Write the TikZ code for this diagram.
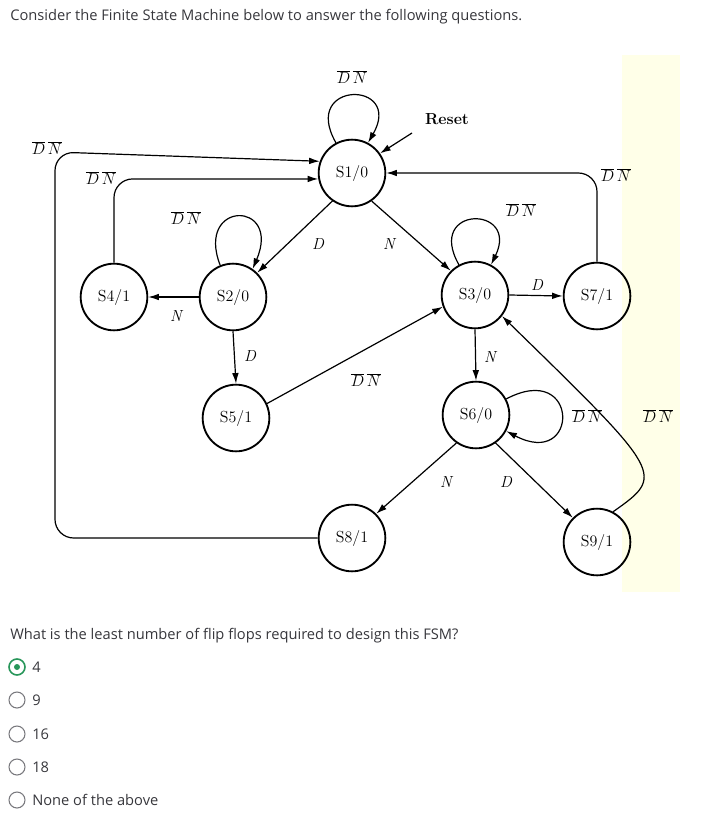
\documentclass[tikz,border=0pt]{standalone}
\usepackage{fontspec}
\newfontfamily\uifont{Open Sans}
\usetikzlibrary{arrows.meta}
\definecolor{uitext}{RGB}{55,55,60}
\definecolor{radiogray}{RGB}{120,120,125}
\definecolor{radiogreen}{RGB}{40,150,90}
\definecolor{paleyellow}{RGB}{255,255,232}
\tikzset{
	state/.style={circle,draw,line width=1.4pt,minimum size=50,inner sep=0pt,font=\large},
	edge/.style={line width=0.9pt,-{Latex[length=8pt,width=5pt]}},
	lbl/.style={font=\large\itshape,inner sep=1pt},
	uitxt/.style={font=\uifont\fontsize{11}{13}\selectfont,color=uitext,anchor=west,inner sep=0pt},
	radio/.style={circle,draw=radiogray,line width=0.8pt,minimum size=12,inner sep=0pt},
}
\newcommand{\dnbar}{$\overline{D}\,\overline{N}$}
\begin{document}
\begin{tikzpicture}[x=0.75pt,y=0.75pt,yscale=-1,xscale=1]
	\useasboundingbox (0,0) rectangle (702,820);
	\fill[paleyellow] (622,55) rectangle (680,592);
	
	% header and question
	\node[uitxt] (title) at (10,17) {Consider the Finite State Machine below to answer the following questions.};
	\node[uitxt] (question) at (10,636) {What is the least number of flip flops required to design this FSM?};
	\node[radio,draw=radiogreen,line width=1.2pt] (r1) at (17,667) {};
	\fill[radiogreen] (r1) circle (3);
	\node[uitxt] (a1) at (32,667) {4};
	\node[radio] (r2) at (17,700) {};
	\node[uitxt] (a2) at (32,700) {9};
	\node[radio] (r3) at (17,734) {};
	\node[uitxt] (a3) at (32,734) {16};
	\node[radio] (r4) at (17,767) {};
	\node[uitxt] (a4) at (32,767) {18};
	\node[radio] (r5) at (17,800) {};
	\node[uitxt] (a5) at (32,800) {None of the above};
	
	% states
	\node[state] (s1) at (352,173) {S1/0};
	\node[state] (s2) at (233,297) {S2/0};
	\node[state] (s3) at (475,295) {S3/0};
	\node[state] (s4) at (114,297) {S4/1};
	\node[state] (s5) at (236,418) {S5/1};
	\node[state] (s6) at (476,415) {S6/0};
	\node[state] (s7) at (597,296) {S7/1};
	\node[state] (s8) at (352,538) {S8/1};
	\node[state] (s9) at (597,542) {S9/1};
	\coordinate (rst) at (412,133);
	\coordinate (c8) at (55,152);
	
	% transitions
	\draw[edge] (s1.118) .. controls (300,80) and (404,80) .. (s1.62);
	\draw[edge] (rst) -- (s1.35);
	\draw[edge,rounded corners=14] (s8.west) -| (c8) -- (s1.160);
	\draw[edge,rounded corners=14] (s4.north) |- (s1.190);
	\draw[edge,rounded corners=14] (s7.north) |- (s1.east);
	\draw[edge] (s1.235) -- (s2.45);
	\draw[edge] (s1.305) -- (s3.135);
	\draw[edge] (s2.112) .. controls (195,200) and (282,200) .. (s2.55);
	\draw[edge] (s2.west) -- (s4.east);
	\draw[edge] (s2.south) -- (s5.north);
	\draw[edge] (s5.25) -- (s3.200);
	\draw[edge] (s3.118) .. controls (425,205) and (520,205) .. (s3.62);
	\draw[edge] (s3.east) -- (s7.west);
	\draw[edge] (s3.south) -- (s6.north);
	\draw[edge] (s6.28) .. controls (580,360) and (580,470) .. (s6.-28);
	\draw[edge] (s6.235) -- (s8.45);
	\draw[edge] (s6.305) -- (s9.135);
	\draw[edge] (s9.62) .. controls (665,475) .. (s3.-38);
	
	% labels
	\node[lbl] (l11) at (352,77) {\dnbar};
	\node[font=\large\bfseries] (lrst) at (447,119) {Reset};
	\node[lbl] (l81) at (47,148) {\dnbar};
	\node[lbl] (l41) at (101,178) {\dnbar};
	\node[lbl] (l71) at (616,175) {\dnbar};
	\node[lbl] (l12) at (318,244) {D};
	\node[lbl] (l13) at (389,244) {N};
	\node[lbl] (l22) at (186,218) {\dnbar};
	\node[lbl] (l24) at (176,316) {N};
	\node[lbl] (l25) at (250,356) {D};
	\node[lbl] (l53) at (366,380) {\dnbar};
	\node[lbl] (l33) at (521,210) {\dnbar};
	\node[lbl] (l37) at (537,285) {D};
	\node[lbl] (l36) at (490,357) {N};
	\node[lbl] (l66) at (587,416) {\dnbar};
	\node[lbl] (l68) at (446,482) {N};
	\node[lbl] (l69) at (506,482) {D};
	\node[lbl] (l93) at (658,416) {\dnbar};
\end{tikzpicture}
\end{document}
